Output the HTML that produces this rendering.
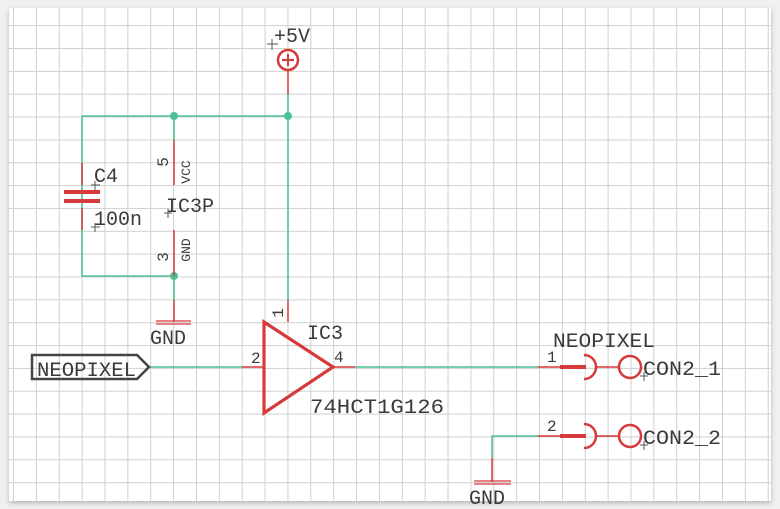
<!DOCTYPE html>
<html><head><meta charset="utf-8"><style>
html,body{margin:0;padding:0;background:#f0f0f0;width:780px;height:509px;overflow:hidden}
svg{display:block}
text{font-family:"Liberation Mono","DejaVu Sans Mono",monospace;fill:#3a3a3a}
</style></head><body>
<svg width="780" height="509" viewBox="0 0 780 509" xmlns="http://www.w3.org/2000/svg">
<defs>
<pattern id="g" x="13" y="2.3" width="22.87" height="22.85" patternUnits="userSpaceOnUse">
<path d="M0.5 0V22.85M0 0.5H22.87" stroke="#cfcfcf" stroke-width="1" fill="none"/>
</pattern>
<filter id="sh"><feDropShadow dx="0" dy="2" stdDeviation="2.5" flood-color="#000" flood-opacity="0.25"/></filter>
</defs>
<rect x="9" y="8" width="762" height="493" fill="#fff" filter="url(#sh)"/>
<rect x="9" y="8" width="762" height="493" fill="url(#g)"/>

<g stroke="#4cc096" stroke-width="1.6" fill="none">
<path d="M82 116H288M82 116V276H174M174 116V140M174 276V300M288 94V300M150 367H242M355 367H538M538 436H492V458"/>
</g>
<g fill="#4cc096">
<circle cx="174" cy="116" r="4"/><circle cx="288" cy="116" r="4"/><circle cx="174" cy="276" r="4"/>
</g>
<g stroke="#d63a3a" fill="none">
<path d="M174 140V185M174 230V276M174 300V322M288 70V94M288 300V322M82 163V185M82 208V230M242 367H264M333 367H355M492 458V482M538 367H560M538 436H560M597 367H619M597 436H619" stroke-width="1.5"/>
<path d="M156 321H191M156 324H191M474 481H511M474 484H511" stroke-width="1.3"/>
<path d="M64 192H100M64 201H100" stroke-width="4"/>
<path d="M264 322V413L333 367Z" stroke-width="3.2" stroke-linejoin="miter"/>
<path d="M560 367H586M560 436H586" stroke-width="4"/>
<path d="M584 355A12 12 0 0 1 584 379M584 424A12 12 0 0 1 584 448" stroke-width="2.5"/>
<circle cx="630" cy="367" r="11" stroke-width="2.5"/>
<circle cx="630" cy="436" r="11" stroke-width="2.5"/>
<circle cx="288" cy="60" r="10" stroke-width="2.5"/>
<path d="M282 60H294M288 54V66" stroke-width="2"/>
</g>
<path d="M32 355H137L149 367L137 379H32Z" fill="none" stroke="#444" stroke-width="2.5"/>
<text x="37" y="376" font-size="20.5" textLength="99" lengthAdjust="spacingAndGlyphs">NEOPIXEL</text>
<text x="274" y="42" font-size="20">+5V</text>
<text x="94" y="182" font-size="20">C4</text>
<text x="94" y="225" font-size="20">100n</text>
<text x="166" y="212" font-size="20">IC3P</text>
<text x="150" y="344" font-size="20">GND</text>
<text x="469" y="504" font-size="20">GND</text>
<text x="307" y="339" font-size="20">IC3</text>
<text x="310" y="413" font-size="20" textLength="134" lengthAdjust="spacingAndGlyphs">74HCT1G126</text>
<text x="251" y="363" font-size="16">2</text>
<text x="334" y="362" font-size="16">4</text>
<text x="547" y="362" font-size="16">1</text>
<text x="547" y="431" font-size="16">2</text>
<text x="553" y="347" font-size="20" textLength="102" lengthAdjust="spacingAndGlyphs">NEOPIXEL</text>
<text x="643" y="375" font-size="20" textLength="78" lengthAdjust="spacingAndGlyphs">CON2_1</text>
<text x="643" y="444" font-size="20" textLength="78" lengthAdjust="spacingAndGlyphs">CON2_2</text>
<g font-size="16">
<text transform="translate(168,162) rotate(-90)" text-anchor="middle">5</text>
<text transform="translate(168,257) rotate(-90)" text-anchor="middle">3</text>
<text transform="translate(283,313) rotate(-90)" text-anchor="middle">1</text>
</g>
<g font-size="13">
<text transform="translate(190,172) rotate(-90)" text-anchor="middle">VCC</text>
<text transform="translate(190,250) rotate(-90)" text-anchor="middle">GND</text>
</g>
<g stroke="#555" stroke-width="1">
<path d="M267 44H278M272 39V50M91 185H100M95 181V190M91 227H100M95 223V232M164 213H172M168 209V218M640 376H648M644 372V381M640 445H648M644 441V450"/>
</g>
</svg>
</body></html>
